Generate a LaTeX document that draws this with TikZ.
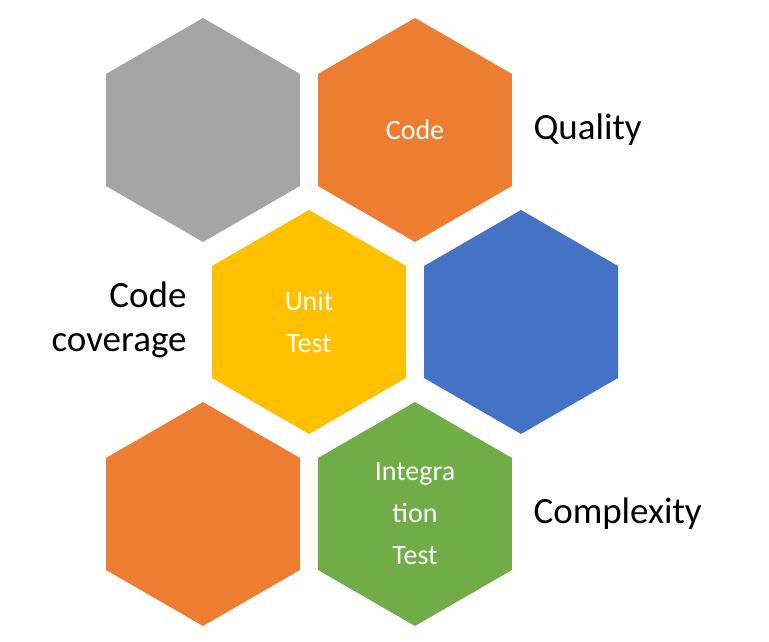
\documentclass[tikz,border=0pt]{standalone}
\usepackage{fontspec}
\setmainfont{Carlito}
\usetikzlibrary{shapes.geometric}
\definecolor{hgray}{HTML}{A5A5A5}
\definecolor{horange}{HTML}{ED7D31}
\definecolor{hyellow}{HTML}{FFC000}
\definecolor{hblue}{HTML}{4472C4}
\definecolor{hgreen}{HTML}{70AD47}
\tikzset{hexa/.style={regular polygon,regular polygon sides=6,shape border rotate=30,minimum size=224pt,inner sep=0pt,draw=none,text=white,align=center,font=\fontsize{28}{42}\selectfont},
lab/.style={font=\fontsize{37}{44}\selectfont,text=black}}
\begin{document}
\begin{tikzpicture}[x=1pt,y=-1pt]
\useasboundingbox (0,0) rectangle (769,642);
\node[hexa,fill=hgray] (g) at (203,130) {};
\node[hexa,fill=horange] (c) at (415,130) {Code};
\node[hexa,fill=hyellow] (u) at (309,322) {Unit\\Test};
\node[hexa,fill=hblue] (b) at (521,322) {};
\node[hexa,fill=horange] (o) at (203,514) {};
\node[hexa,fill=hgreen] (i) at (415,514) {Integra\\tion\\Test};
\node[lab,anchor=west] (q) at (530,130) {Quality};
\node[lab,anchor=east,align=right] (cc) at (190,320) {Code\\coverage};
\node[lab,anchor=west] (cx) at (530,514) {Complexity};
\end{tikzpicture}
\end{document}
